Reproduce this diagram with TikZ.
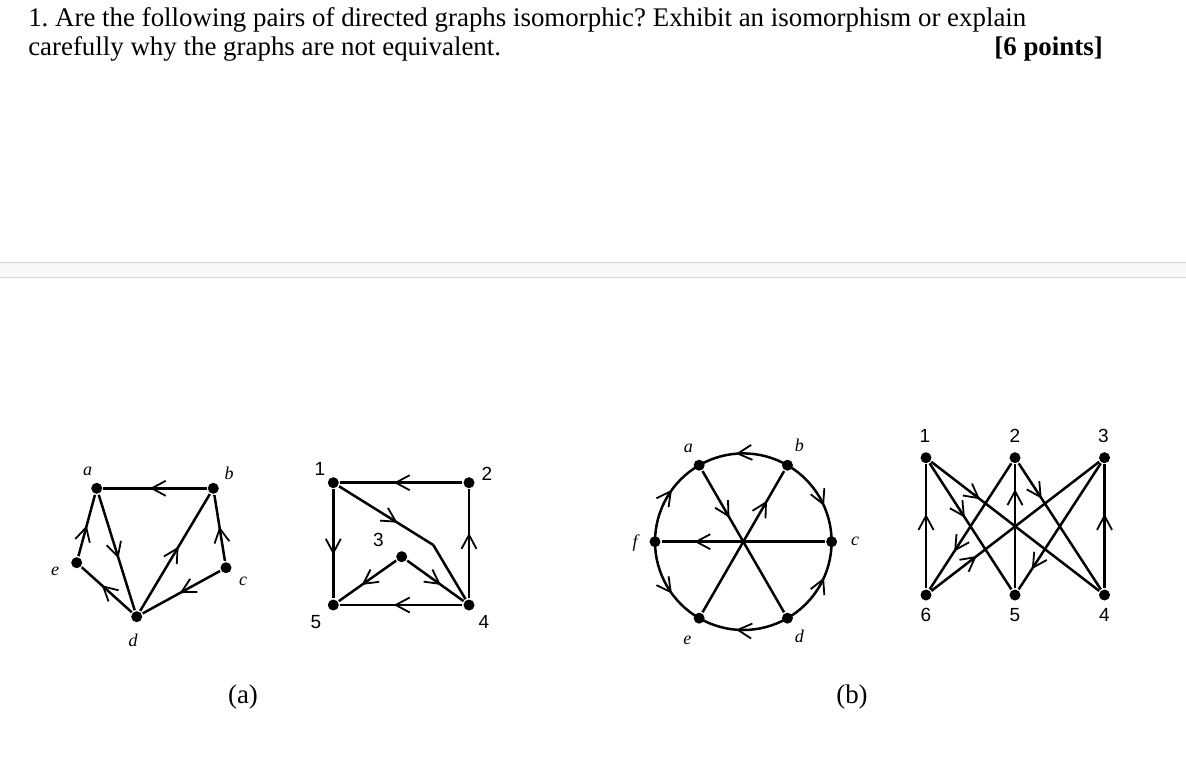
\documentclass[tikz,border=0pt]{standalone}
\usepackage{fontspec}
\setmainfont{Liberation Serif}
\setsansfont{Liberation Sans}
\usetikzlibrary{arrows.meta,decorations.markings}
\frenchspacing
\tikzset{
  dot/.style={circle,fill,inner sep=0pt,minimum size=11pt},
  arr/.style={postaction={decorate},decoration={markings,
    mark=at position #1 with {\arrow{Straight Barb[length=14pt,width=15pt,line width=1.8pt]}}}},
  arr/.default=0.57,
  lbl/.style={font=\fontsize{18}{18}\selectfont\itshape},
  num/.style={font=\fontsize{19}{19}\selectfont\sffamily},
  txt/.style={font=\fontsize{26.9}{26.9}\selectfont,inner sep=0pt},
}
\begin{document}
\begin{tikzpicture}[x=1pt,y=-1pt,line width=2.5pt]
            \useasboundingbox (0,0) rectangle (1186,757);
            % question text
            \node[txt,anchor=base west] (q1) at (27,27) {1. Are the following pairs of directed graphs isomorphic? Exhibit an isomorphism or explain};
            \node[txt,anchor=base west] (q2) at (27,56) {carefully why the graphs are not equivalent.};
            \node[txt,anchor=base east,font=\fontsize{26.9}{26.9}\selectfont\bfseries] (pts) at (1104,56) {[6 points]};
            % divider
            \fill[black!3] (0,262) rectangle (1186,277);
            \draw[line width=1pt,black!18] (0,262) -- (1186,262);
            \draw[line width=1pt,black!16] (0,277) -- (1186,277);

            % (a) left
            \node[dot] (a) at (96.7,488.3) {};
            \node[dot] (b) at (213.3,488.3) {};
            \node[dot] (c) at (226,567.7) {};
            \node[dot] (d) at (136.7,616.7) {};
            \node[dot] (e) at (76.7,562.7) {};
            \node[lbl] (la) at (87.7,471.7) {a};
            \node[lbl] (lb) at (229,473) {b};
            \node[lbl] (lc) at (243,581.7) {c};
            \node[lbl] (ld) at (133,640) {d};
            \node[lbl] (le) at (55,571.7) {e};
            \draw[arr=0.55] (b) -- (a);
            \draw[arr=0.5] (e) -- (a);
            \draw[arr=0.55] (a) -- (d);
            \draw[arr=0.6] (d) -- (e);
            \draw[arr=0.55] (d) -- (b);
            \draw[arr=0.52] (c) -- (b);
            \draw[arr=0.52] (c) -- (d);

            % (a) right
            \node[dot] (n1) at (333.3,482.7) {};
            \node[dot] (n2) at (469,482.7) {};
            \node[dot] (n3) at (401.7,556.7) {};
            \node[dot] (n4) at (469,605) {};
            \node[dot] (n5) at (333.3,605) {};
            \coordinate (k) at (433.3,545);
            \node[num] (l1) at (320,469) {1};
            \node[num] (l2) at (487,474) {2};
            \node[num] (l3) at (378.3,540) {3};
            \node[num] (l4) at (484,622) {4};
            \node[num] (l5) at (316,622) {5};
            \draw[arr=0.56] (n2) -- (n1);
            \draw[arr=0.6] (n1) -- (n5);
            \draw[arr=0.6] (n4) -- (n2);
            \draw[arr=0.56] (n4) -- (n5);
            \draw[arr=0.6] (n3) -- (n5);
            \draw[arr=0.6] (n3) -- (n4);
            \draw[arr=0.62] (n1) -- (k);
            \draw (k) -- (n4);

            % (b) left
            \coordinate (o) at (743.3,541.7);
            \node[dot] (ba) at ([shift={(120:88.3pt)}]o) {};
            \node[dot] (bb) at ([shift={(60:88.3pt)}]o) {};
            \node[dot] (bc) at ([shift={(0:88.3pt)}]o) {};
            \node[dot] (bd) at ([shift={(-60:88.3pt)}]o) {};
            \node[dot] (be) at ([shift={(-120:88.3pt)}]o) {};
            \node[dot] (bf) at ([shift={(180:88.3pt)}]o) {};
            \node[lbl] (lba) at (688.3,448.3) {a};
            \node[lbl] (lbb) at (799.3,445) {b};
            \node[lbl] (lbc) at (855,541.7) {c};
            \node[lbl] (lbd) at (799.3,636.7) {d};
            \node[lbl] (lbe) at (687.3,640) {e};
            \node[lbl] (lbf) at (635,543) {f};
            \draw[arr=0.58] (bb.center) arc[start angle=60,end angle=120,radius=88.3pt];
            \draw[arr=0.6] (bb.center) arc[start angle=60,end angle=0,radius=88.3pt];
            \draw[arr=0.6] (bd.center) arc[start angle=-60,end angle=0,radius=88.3pt];
            \draw[arr=0.58] (bd.center) arc[start angle=-60,end angle=-120,radius=88.3pt];
            \draw[arr=0.6] (bf.center) arc[start angle=180,end angle=240,radius=88.3pt];
            \draw[arr=0.6] (bf.center) arc[start angle=180,end angle=120,radius=88.3pt];
            \draw[arr=0.33] (ba) -- (bd);
            \draw[arr=0.79] (be) -- (bb);
            \draw[arr=0.8] (bc) -- (bf);

            % (b) right
            \node[dot] (m1) at (926,457.7) {};
            \node[dot] (m2) at (1015,457.7) {};
            \node[dot] (m3) at (1104.5,457.7) {};
            \node[dot] (m4) at (1104.5,595) {};
            \node[dot] (m5) at (1015,595) {};
            \node[dot] (m6) at (926,595) {};
            \node[num] (k1) at (925,436) {1};
            \node[num] (k2) at (1015,436) {2};
            \node[num] (k3) at (1103.3,436) {3};
            \node[num] (k4) at (1104.3,615) {4};
            \node[num] (k5) at (1015,615) {5};
            \node[num] (k6) at (926,615) {6};
            \draw[arr=0.6] (m6) -- (m1);
            \draw[arr=0.8] (m5) -- (m2);
            \draw[arr=0.6] (m4) -- (m3);
            \draw[arr=0.43] (m1) -- (m5);
            \draw[arr=0.29] (m1) -- (m4);
            \draw[arr=0.7] (m2) -- (m6);
            \draw[arr=0.28] (m2) -- (m4);
            \draw[arr=0.84] (m3) -- (m5);
            \draw[arr=0.27] (m6) -- (m3);

            % captions
            \node[txt] (capa) at (243,697) {(a)};
            \node[txt] (capb) at (852,697) {(b)};
\end{tikzpicture}
\end{document}
